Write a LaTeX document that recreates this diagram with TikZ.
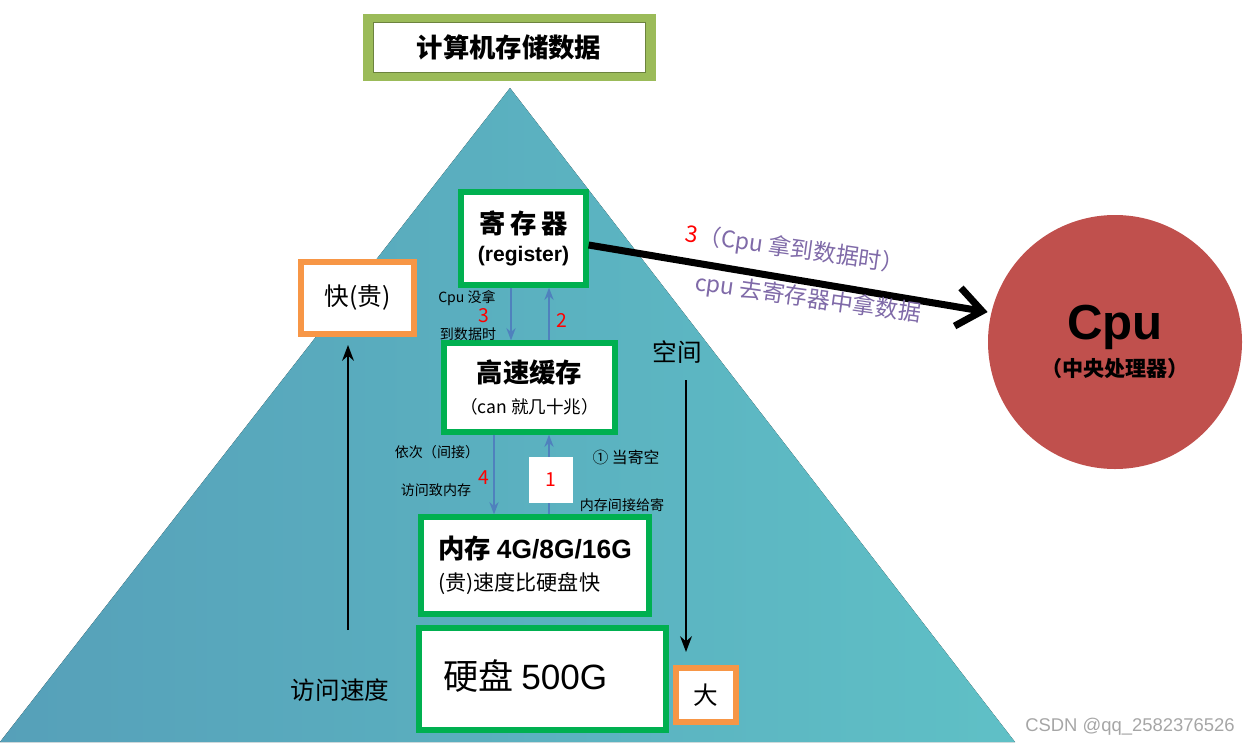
\documentclass[tikz,border=0pt]{standalone}
\usepackage{fontspec}
\setmainfont{Noto Sans CJK SC}
\newfontfamily\cjk{Noto Sans CJK SC}
\newfontfamily\sans{Liberation Sans}
\usetikzlibrary{arrows.meta}
\definecolor{tl}{HTML}{56A0B9}
\definecolor{tr}{HTML}{5FC0C6}
\definecolor{gb}{HTML}{00B050}
\definecolor{ob}{HTML}{F79646}
\definecolor{ol}{HTML}{9BBB59}
\definecolor{cr}{HTML}{C0504D}
\definecolor{bl}{HTML}{4F81BD}
\definecolor{pu}{HTML}{7F6AA8}
\tikzset{
 gbox/.style={draw=gb,line width=3pt,fill=white},
 obox/.style={draw=ob,line width=3pt,fill=white},
 barrow/.style={bl,line width=1pt,-{Stealth[length=7pt]}},
 karrow/.style={black,line width=1pt,-{Stealth[length=9pt]}},
 small/.style={font=\cjk\fontsize{8pt}{9pt}\selectfont},
 red/.style={text=red,font=\fontsize{11pt}{12pt}\selectfont}
}
\begin{document}
\begin{tikzpicture}[x=0.02cm,y=-0.02cm]
\useasboundingbox (0,0) rectangle (1247,747);
\fill[left color=tl,right color=tr] (510,88) -- (0,742) -- (1015,742) -- cycle;
% title
\node[draw=ol,fill=ol,minimum width=292*0.02cm,minimum height=66*0.02cm] (tb) at (509,47) {};
\node[fill=white,draw=ol!70!black,minimum width=272*0.02cm,minimum height=50*0.02cm,font=\bfseries\fontsize{15pt}{16pt}\selectfont] (title) at (509,47) {计算机存储数据};
% boxes
\node[gbox,minimum width=125*0.02cm,minimum height=93*0.02cm,align=center] (reg) at (523.5,238.5) {\bfseries\fontsize{15pt}{17pt}\selectfont 寄\,存\,器\\[4pt]{\sans\bfseries\fontsize{12pt}{13pt}\selectfont (register)}};
\node[gbox,minimum width=171*0.02cm,minimum height=89*0.02cm,align=center] (cache) at (529.5,387.5) {\bfseries\fontsize{15pt}{17pt}\selectfont 高速缓存\\[6pt]{\fontsize{10pt}{11pt}\selectfont （can 就几十兆）}};
\node[gbox,minimum width=228*0.02cm,minimum height=97*0.02cm,align=left] (mem) at (535,565.5) {\bfseries\fontsize{15pt}{17pt}\selectfont 内存 {\sans 4G/8G/16G}\\[6pt]{\fontsize{12pt}{13pt}\selectfont (贵)速度比硬盘快}};
\node[gbox,minimum width=247*0.02cm,minimum height=102*0.02cm] (disk) at (542.5,679) {};
\node[anchor=west,font=\fontsize{20pt}{22pt}\selectfont] at (437,676) {硬盘 {\sans 500G}};
\node[obox,minimum width=113*0.02cm,minimum height=72*0.02cm,font=\fontsize{14pt}{16pt}\selectfont] (fast) at (357.5,298) {快(贵)};
\node[obox,minimum width=60*0.02cm,minimum height=54*0.02cm,font=\fontsize{14pt}{16pt}\selectfont] (big) at (706,695) {大};
% cpu
\node[circle,fill=cr,minimum size=254*0.02cm,align=center] (cpu) at (1115,342) {{\sans\bfseries\fontsize{28pt}{30pt}\selectfont Cpu}\\[4pt]{\bfseries\fontsize{12pt}{13pt}\selectfont （中央处理器）}};
\draw[line width=4pt,-{Straight Barb[length=14pt,width=22pt]}] (reg.east |- 0,245) -- (cpu.west |- 0,312);
\node[rotate=-8,text=pu,font=\fontsize{13pt}{15pt}\selectfont] at (795,250) {{\color{red}\itshape 3}（Cpu 拿到数据时）};
\node[rotate=-8,text=pu,font=\fontsize{13pt}{15pt}\selectfont] at (808,299) {cpu 去寄存器中拿数据};
% blue arrows
\draw[barrow] (reg.south -| 511,0) -- (cache.north -| 511,0);
\draw[barrow] (cache.north -| 549,0) -- (reg.south -| 549,0);
\draw[barrow] (cache.south -| 494,0) -- (mem.north -| 494,0);
\draw[barrow] (mem.north -| 549,0) -- (cache.south -| 549,0);
\node[small] at (467,298) {Cpu 没拿};
\node[red] at (484,316) {3};
\node[small] at (468,334) {到数据时};
\node[red] at (562,320) {2};
\node[small] at (437,452) {依次（间接）};
\node[small] at (436,490) {访问致内存};
\node[red] at (484,478) {4};
\node[fill=white,minimum width=44*0.02cm,minimum height=46*0.02cm,red] (one) at (551,480) {1};
\node[small,font=\cjk\fontsize{9pt}{10pt}\selectfont] at (626,457) {① 当寄空};
\node[small] at (622,505) {内存间接给寄};
% black arrows
\coordinate (s1) at (348,630); \coordinate (e1) at (348,345);
\draw[karrow] (s1) -- (e1);
\coordinate (s2) at (686,380); \coordinate (e2) at (686,652);
\draw[karrow] (s2) -- (e2);
\node[font=\fontsize{14pt}{16pt}\selectfont] at (340,690) {访问速度};
\node[font=\fontsize{14pt}{16pt}\selectfont] at (677,352) {空间};
\node[text=gray!70,font=\sans\fontsize{10.5pt}{12pt}\selectfont] at (1130,727) {CSDN @qq\_2582376526};
\end{tikzpicture}
\end{document}
